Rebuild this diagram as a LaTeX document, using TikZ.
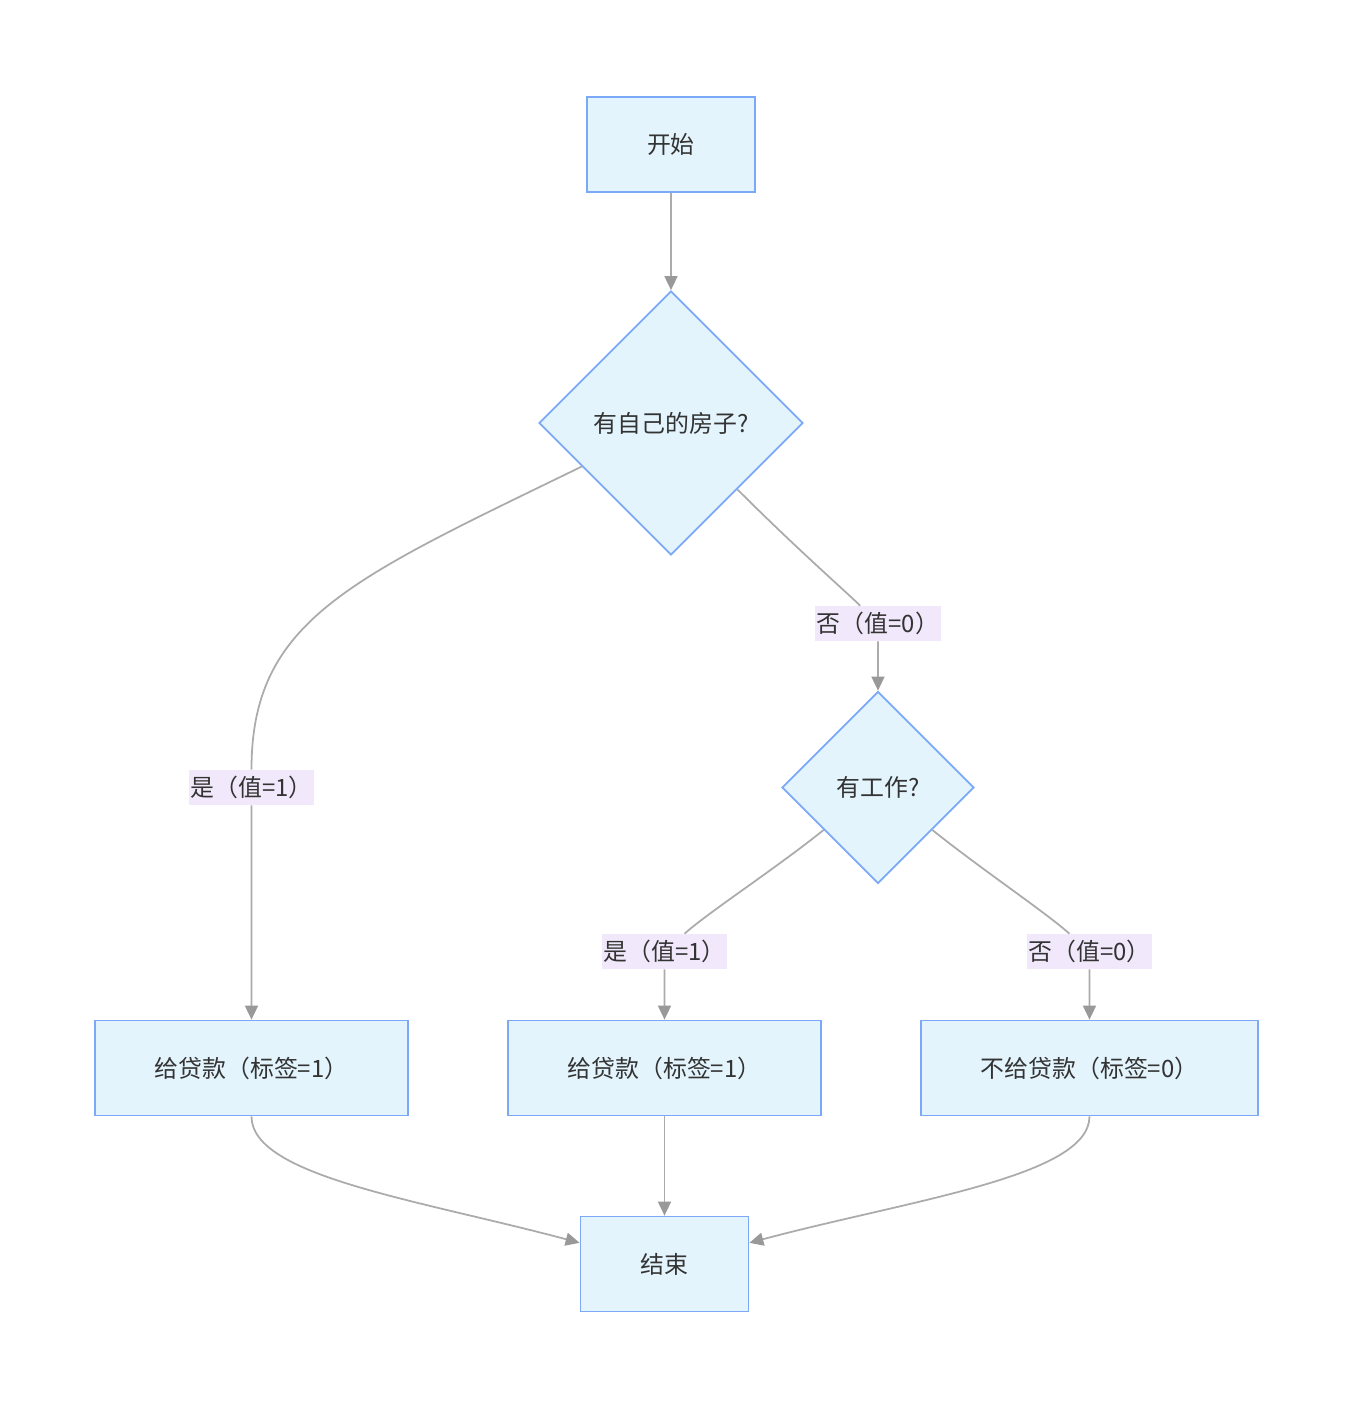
\documentclass[tikz,border=0pt]{standalone}
\usepackage{fontspec}
\setmainfont{Noto Sans CJK SC}
\usetikzlibrary{positioning,shapes.geometric,arrows.meta}
\definecolor{boxfill}{HTML}{E3F4FD}
\definecolor{boxline}{HTML}{7BA9F8}
\definecolor{tagfill}{HTML}{F1E9FB}
\definecolor{edge}{HTML}{ABABAB}
\definecolor{tip}{HTML}{999999}
\definecolor{ink}{HTML}{333333}
\begin{document}
\begin{tikzpicture}[on grid, font=\fontsize{13.6}{16}\selectfont, text=ink,
  main/.style = {draw=boxline, fill=boxfill, line width=1pt, minimum height=1.9cm},
  choice/.style = {main, diamond, aspect=1, inner sep=0pt},
  tag/.style = {fill=tagfill, inner xsep=1pt, inner ysep=1pt, minimum height=0.7cm},
  link/.style = {draw=edge, line width=1pt, -{Triangle[length=0.28cm,width=0.26cm,color=tip]}}]
\useasboundingbox (-13.42,2.89) rectangle (13.68,-25.27);
\node[main, minimum width=3.36cm] (1) {开始};
\node[choice, minimum size=5.28cm] (2) [below=5.57cm of 1] {有自己的房子?};
\node[choice, minimum size=3.84cm] (3) [below right=7.29cm and 4.14cm of 2] {有工作?};
\node[main, minimum width=6.26cm] (5) [below left=5.61cm and 4.27cm of 3] {给贷款（标签=1）};
\node[main, minimum width=6.26cm] (4) [left=8.26cm of 5] {给贷款（标签=1）};
\node[main, minimum width=6.74cm] (6) [right=8.5cm of 5] {不给贷款（标签=0）};
\node[main, minimum width=3.36cm] (7) [below=3.92cm of 5] {结束};

\node[tag] (a) [above=3.28cm of 3] {否（值=0）};
\node[tag] (b) [above=5.61cm of 4] {是（值=1）};
\node[tag] (c) [above=2.33cm of 5] {是（值=1）};
\node[tag] (d) [above=2.33cm of 6] {否（值=0）};

\draw[link] (1) -- (2);
\draw[link] (2.206) .. controls +(-4.64,-2.26) and +(0,3.35) .. (b) -- (4);
\draw[link] (2.south east) .. controls +(1.2,-1.2) and +(-0.6,0.6) .. (a) -- (3);
\draw[link] (3.218) .. controls +(-1,-0.8) and +(0.9,0.8) .. (c) -- (5);
\draw[link] (3.322) .. controls +(1,-0.8) and +(-0.9,0.8) .. (d) -- (6);
\draw[link] (4.south) .. controls +(0,-1.2) and +(-3.22,0.86) .. (7.166);
\draw[link] (5) -- (7);
\draw[link] (6.south) .. controls +(0,-1.2) and +(3.22,0.86) .. (7.14);

\end{tikzpicture}
\end{document}
